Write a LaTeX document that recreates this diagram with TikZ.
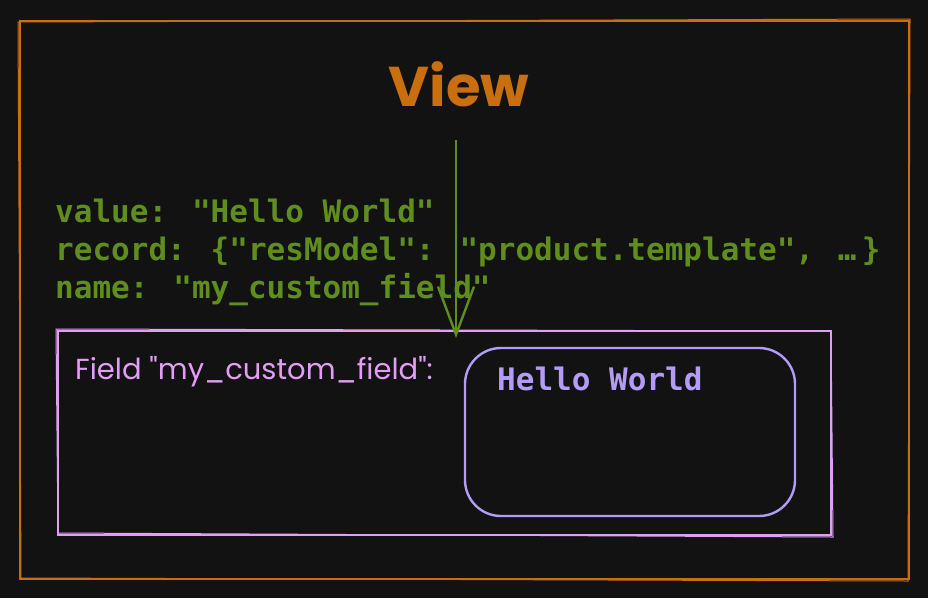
\documentclass[tikz,border=0pt]{standalone}
\usepackage{fontspec}
\usetikzlibrary{arrows.meta}

\newfontfamily\codefont{DejaVu Sans Mono}
\newfontfamily\handfont{Poppins}

\definecolor{canvas}{HTML}{121212}
\definecolor{vieworange}{HTML}{C96F10}
\definecolor{propgreen}{HTML}{5F8D1E}
\definecolor{fieldpink}{HTML}{E39DF5}
\definecolor{widgetpurple}{HTML}{B39CF8}

\begin{document}
\begin{tikzpicture}[x=1pt, y=-1pt,
    codeline/.style={anchor=base west, inner sep=0pt, text=propgreen, font=\codefont\bfseries\fontsize{31}{38}\selectfont},
    sketchbox/.style={draw=#1, line width=2.4pt, inner sep=0pt}]

    \fill[canvas] (0,0) rectangle (928,598);
    \useasboundingbox (0,0) rectangle (928,598);

    % outer view frame
    \node[sketchbox=vieworange, minimum width=889pt, minimum height=558pt] (view) at (464.5,300) {};
    \draw[vieworange, line width=1pt] (18,22) -- (910,19) -- (908,581) -- (21,578) -- cycle;
    \node[text=vieworange, font=\handfont\bfseries\fontsize{56}{60}\selectfont] (viewtitle) at (459,84) {View};

    % props handed down
    \node[codeline] (valueprop) at (55,222) {value: "Hello World"};
    \node[codeline] (recordprop) at (55,260) {record: \{"resModel": "product.template", \,…\,\}};
    \node[codeline] (nameprop) at (55,298) {name: "my\_custom\_field"};

    % field component
    \node[sketchbox=fieldpink, minimum width=773pt, minimum height=204pt] (field) at (444.5,433) {};
    \draw[fieldpink, line width=1pt] (56,329) -- (831,331) -- (833,537) -- (58,533) -- cycle;
    \node[anchor=west, inner sep=0pt, text=fieldpink, font=\handfont\fontsize{29}{32}\selectfont] (fieldlabel) at (75,372) {Field "my\_custom\_field":};

    % widget
    \node[sketchbox=widgetpurple, rounded corners=36pt, minimum width=330pt, minimum height=168pt] (widget) at (630,432) {};
    \node[codeline, text=widgetpurple] (widgetvalue) at (497,390) {Hello World};

    % arrow
    \coordinate (arrowtail) at (456,140);
    \coordinate (arrowtip) at (456,338);
    \draw[propgreen, line width=2.4pt, -{Straight Barb[length=48pt, width=36pt]}] (arrowtail) -- (arrowtip);
\end{tikzpicture}
\end{document}
